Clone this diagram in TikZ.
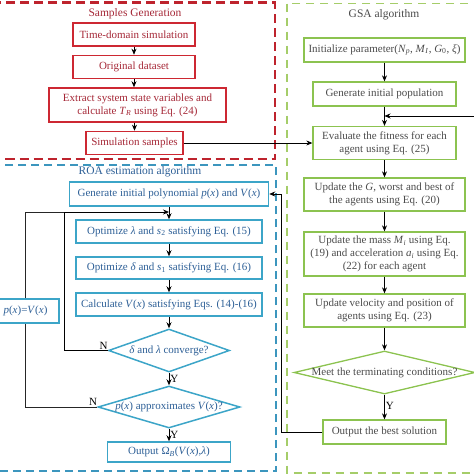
\documentclass[tikz,border=0pt]{standalone}
\usepackage{fontspec}
\setmainfont{Liberation Serif}
\usetikzlibrary{arrows.meta,shapes.geometric}
\definecolor{redline}{RGB}{205,40,50}
\definecolor{redtext}{RGB}{165,40,55}
\definecolor{bluebox}{RGB}{60,165,200}
\definecolor{bluetext}{RGB}{45,95,150}
\definecolor{greenbox}{RGB}{140,195,80}
\definecolor{greentext}{RGB}{75,75,75}
\definecolor{reddash}{RGB}{190,35,45}
\definecolor{bluedash}{RGB}{60,150,190}
\definecolor{greendash}{RGB}{165,205,105}
\newcommand{\vi}[1]{\textit{#1}}
\newcommand{\sbi}[1]{\textsubscript{\textit{#1}}}
\begin{document}
\begin{tikzpicture}[x=1pt,y=-1pt,
  txt/.style={font=\fontsize{11}{13}\selectfont},
  rbox/.style={txt,draw=redline,line width=1.6pt,text=redtext,minimum height=23,inner sep=1pt,align=center},
  bbox/.style={txt,draw=bluebox,line width=1.5pt,text=bluetext,minimum height=23,inner sep=1pt,align=center},
  gbox/.style={txt,draw=greenbox,line width=1.3pt,text=greentext,minimum height=24,inner sep=1pt,align=center},
  bdia/.style={draw=bluebox,line width=1.5pt,shape=diamond,inner sep=0pt},
  gdia/.style={draw=greenbox,line width=1.3pt,shape=diamond,inner sep=0pt},
  arr/.style={draw=black,line width=0.7pt,-{Stealth[length=6pt,width=5pt]}},
  ln/.style={draw=black!85,line width=0.7pt},
  lbl/.style={txt,inner sep=1pt},
  ttl/.style={font=\fontsize{11.5}{13.5}\selectfont}
]
\useasboundingbox (0,0) rectangle (474,474);
% frames
\draw[reddash,line width=2.6pt,dash pattern=on 9pt off 5pt] (-6,2.5) rectangle (275,159);
\draw[bluedash,line width=2.2pt,dash pattern=on 8pt off 5pt] (-6,165) rectangle (276,471);
\draw[greendash,line width=1.4pt,dash pattern=on 8pt off 6pt] (287,3.5) rectangle (482,473);
% titles
\node[ttl,text=redtext] (t1) at (135,13.5) {Samples Generation};
\node[ttl,text=greentext] (t2) at (384,15) {GSA algorithm};
\node[ttl,text=bluetext] (t3) at (140,172) {ROA estimation algorithm};
% Samples generation
\node[rbox,minimum width=122] (r1) at (134,34.5) {Time-domain simulation};
\node[rbox,minimum width=122] (r2) at (134,67) {Original dataset};
\node[rbox,minimum width=177,minimum height=34] (r3) at (137.5,105) {Extract system state variables and\\calculate \vi{T}\sbi{R} using Eq. (24)};
\node[rbox,minimum width=97] (r4) at (134.5,143) {Simulation samples};
\draw[arr] (r1) -- (r2);
\draw[arr] (r2) -- (r3.north -| r2);
\draw[arr] (r3.south -| r4) -- (r4);
% GSA
\node[gbox,minimum width=161] (g1) at (384.5,50) {Initialize parameter(\vi{N}\sbi{p}, \vi{M}\sbi{I}, \vi{G}\textsubscript{0}, \vi{ξ})};
\node[gbox,minimum width=143] (g2) at (384.5,94) {Generate initial population};
\node[gbox,minimum width=143,minimum height=33] (g3) at (384.5,143) {Evaluate the fitness for each\\agent using Eq. (25)};
\node[gbox,minimum width=161,minimum height=33] (g4) at (384.5,194.5) {Update the \vi{G}, worst and best of\\the agents using Eq. (20)};
\node[gbox,minimum width=161,minimum height=44] (g5) at (384.5,254) {Update the mass \vi{M}\sbi{i} using Eq.\\(19) and acceleration \vi{a}\sbi{i} using Eq.\\(22) for each agent};
\node[gbox,minimum width=161,minimum height=33] (g6) at (384.5,310.5) {Update velocity and position of\\agents using Eq. (23)};
\node[gdia,minimum width=181,minimum height=43] (g7) at (384.5,372.5) {};
\node[txt,text=greentext] (g7t) at (g7.center) {Meet the terminating conditions?};
\node[gbox,minimum width=123] (g8) at (384.5,432) {Output the best solution};
\draw[arr] (g1) -- (g2);
\draw[arr] (g2) -- (g3);
\draw[arr] (g3) -- (g4);
\draw[arr] (g4) -- (g5);
\draw[arr] (g5) -- (g6);
\draw[arr] (g6) -- (g7);
\draw[arr] (g7) -- node[lbl,right,pos=0.45] (gy) {Y} (g8);
\coordinate (rin) at (478,116);
\coordinate (gj) at (384.5,116);
\draw[arr] (rin) -- (gj);
\draw[arr] (r4) -- (g3);
% ROA
\node[bbox,minimum width=199,minimum height=24] (b1) at (169,194) {Generate initial polynomial \vi{p}(\vi{x}) and \vi{V}(\vi{x})};
\node[bbox,minimum width=186] (b2) at (169,231.5) {Optimize \vi{λ} and \vi{s}\textsubscript{2} satisfying Eq. (15)};
\node[bbox,minimum width=186,minimum height=22] (b3) at (169,268) {Optimize \vi{δ} and \vi{s}\textsubscript{1} satisfying Eq. (16)};
\node[bbox,minimum width=186] (b4) at (169,304.5) {Calculate \vi{V}(\vi{x}) satisfying Eqs. (14)-(16)};
\node[bdia,minimum width=121,minimum height=43] (d1) at (169,350.5) {};
\node[txt,text=bluetext] (d1t) at (d1.center) {\vi{δ} and \vi{λ} converge?};
\node[bdia,minimum width=142,minimum height=42] (d2) at (169,407) {};
\node[txt,text=bluetext] (d2t) at (d2.center) {\vi{p}(\vi{x}) approximates \vi{V}(\vi{x})?};
\node[bbox,minimum width=123,minimum height=20] (b5) at (169,452) {Output Ω\sbi{B}(\vi{V}(\vi{x}),\vi{λ})};
\node[bbox,minimum width=67,minimum height=24] (pv) at (25.5,311) {\vi{p}(\vi{x})=\vi{V}(\vi{x})};
\coordinate (j1) at (169,212);
\coordinate (c1) at (64,212);
\draw[arr] (b2) -- (b3);
\draw[arr] (b3) -- (b4);
\draw[arr] (b4) -- (d1);
\draw[arr] (d1) -- node[lbl,right,pos=0.5] (y1) {Y} (d2);
\draw[arr] (d2) -- node[lbl,right,pos=0.5] (y2) {Y} (b5);
\draw[arr] (b1) -- (b2);
\draw[arr] (d1.west) -| (c1) -- (j1);
\draw[ln] (d2.west) -| (pv.south);
\draw[ln] (pv.north) |- (c1);
\node[lbl,anchor=south east] (n1) at ([xshift=1pt]d1.west) {N};
\node[lbl,anchor=south east] (n2) at ([xshift=1pt]d2.west) {N};
% GSA output feedback to ROA
\coordinate (c3) at (281,194);
\draw[arr] (g8.west) -| (c3) -- (b1.east);
\end{tikzpicture}
\end{document}
